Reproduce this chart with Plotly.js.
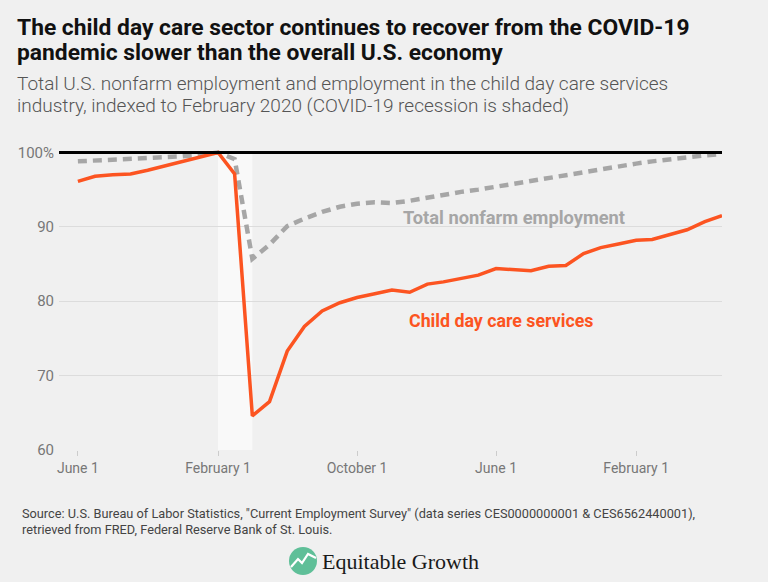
<!DOCTYPE html>
<html>
<head>
<meta charset="utf-8">
<script src="https://cdn.plot.ly/plotly-3.0.1.min.js"></script>
<style>
html,body{margin:0;padding:0;background:#f0f0f0;}
#chart{width:768px;height:582px;}
</style>
</head>
<body>
<div id="chart"></div>
<script>
// ---- Data (indexed to February 2020 = 100) ----
const months = [
  "2019-06-01","2019-07-01","2019-08-01","2019-09-01","2019-10-01","2019-11-01","2019-12-01",
  "2020-01-01","2020-02-01","2020-03-01","2020-04-01","2020-05-01","2020-06-01","2020-07-01",
  "2020-08-01","2020-09-01","2020-10-01","2020-11-01","2020-12-01",
  "2021-01-01","2021-02-01","2021-03-01","2021-04-01","2021-05-01","2021-06-01","2021-07-01",
  "2021-08-01","2021-09-01","2021-10-01","2021-11-01","2021-12-01",
  "2022-01-01","2022-02-01","2022-03-01","2022-04-01","2022-05-01","2022-06-01","2022-07-01"
];
const childCare = [
  96.1, 96.8, 97.0, 97.1, 97.6, 98.2, 98.8,
  99.5, 100.0, 97.1, 64.6, 66.5, 73.3, 76.6, 78.7, 79.8, 80.5, 81.0, 81.5,
  81.2, 82.3, 82.6, 83.1, 83.5, 84.4, 84.2, 84.1, 84.7, 84.8, 86.4, 87.2,
  87.7, 88.2, 88.3, 89.0, 89.6, 90.7, 91.5
];
const totalNonfarm = [
  98.8, 98.9, 99.0, 99.1, 99.2, 99.4, 99.5,
  99.7, 100.0, 99.1, 85.7, 87.6, 90.1, 91.1, 92.0, 92.7, 93.1, 93.3, 93.2,
  93.5, 93.9, 94.4, 94.7, 95.0, 95.4, 95.8, 96.2, 96.5, 96.9, 97.4, 97.8,
  98.1, 98.5, 98.8, 99.1, 99.3, 99.6, 99.8
];
const xTickVals = ["2019-06-01","2020-02-01","2020-10-01","2021-06-01","2022-02-01"];
const xTickText = ["June 1","February 1","October 1","June 1","February 1"];
const yTickVals = [60, 70, 80, 90, 100];
const yTickText = ["60","70","80","90","100%"];
const recession = ["2020-02-01","2020-04-01"];
const baseline = 100;

// ---- Layout helpers (pixel -> paper) ----
const W = 768, Hh = 582;
const M = {l:59, r:46, t:145, b:132};
const PW = W - M.l - M.r, PH = Hh - M.t - M.b;
const px = x => (x - M.l) / PW;
const py = y => 1 - (y - M.t) / PH;

const traces = [
  {
    x: months, y: totalNonfarm, type: "scatter", mode: "lines",
    line: {color: "#a6a6a6", width: 4.5, dash: "9px,6px"},
    hoverinfo: "skip", name: "Total nonfarm employment"
  },
  {
    x: months, y: childCare, type: "scatter", mode: "lines",
    line: {color: "#fc5421", width: 3.5},
    hoverinfo: "skip", name: "Child day care services"
  }
];

const titleFont = "Roboto, 'Noto Sans', sans-serif";
const layout = {
  width: W, height: Hh,
  margin: M,
  paper_bgcolor: "#f0f0f0",
  plot_bgcolor: "#f0f0f0",
  showlegend: false,
  xaxis: {
    type: "date",
    range: ["2019-04-29", "2022-07-01"],
    tickvals: xTickVals, ticktext: xTickText,
    ticks: "outside", ticklen: 5, tickcolor: "#cccccc", tickwidth: 1,
    showgrid: false, zeroline: false, showline: false,
    tickfont: {family: "Roboto, sans-serif", size: 14, color: "#777777"},
    fixedrange: true
  },
  yaxis: {
    range: [60, 101],
    tickvals: yTickVals, ticktext: yTickText,
    showgrid: true, gridcolor: "#dcdcdc", gridwidth: 1,
    zeroline: false, showline: false, ticks: "",
    tickfont: {family: "Roboto, sans-serif", size: 15, color: "#777777"},
    ticklabelstandoff: 4,
    fixedrange: true
  },
  shapes: [
    {type: "rect", xref: "x", yref: "y", x0: recession[0], x1: recession[1], y0: 60, y1: baseline,
     fillcolor: "#f9f9f9", line: {width: 0}, layer: "below"},
    {type: "line", xref: "paper", yref: "y", x0: 0, x1: 1, y0: baseline, y1: baseline,
     line: {color: "#000000", width: 3}, layer: "above"},
    // logo circle
    {type: "circle", xref: "paper", yref: "paper",
     x0: px(289), x1: px(317), y0: py(575), y1: py(547),
     fillcolor: "#5fbf98", line: {width: 0}},
    {type: "path", xref: "paper", yref: "paper",
     path: "M " + px(291) + "," + py(567) + " L " + px(298) + "," + py(559) + " L " + px(302) + "," + py(563) +
           " L " + px(308) + "," + py(554) + " L " + px(316) + "," + py(558),
     line: {color: "#ffffff", width: 2.2}}
  ],
  annotations: [
    {xref: "paper", yref: "paper", x: px(15), y: py(28), xanchor: "left", yanchor: "middle",
     text: "<b>The child day care sector continues to recover from the COVID-19</b>", showarrow: false,
     font: {family: titleFont, size: 22.8, color: "#111111"}},
    {xref: "paper", yref: "paper", x: px(15), y: py(53), xanchor: "left", yanchor: "middle",
     text: "<b>pandemic slower than the overall U.S. economy</b>", showarrow: false,
     font: {family: titleFont, size: 22.8, color: "#111111"}},
    {xref: "paper", yref: "paper", x: px(15), y: py(83), xanchor: "left", yanchor: "middle",
     text: "Total U.S. nonfarm employment and employment in the child day care services", showarrow: false,
     font: {family: "Roboto, sans-serif", size: 19, color: "#555555", weight: 300}},
    {xref: "paper", yref: "paper", x: px(15), y: py(105.5), xanchor: "left", yanchor: "middle",
     text: "industry, indexed to February 2020 (COVID-19 recession is shaded)", showarrow: false,
     font: {family: "Roboto, sans-serif", size: 19, color: "#555555", weight: 300}},
    {xref: "paper", yref: "paper", x: px(401), y: py(217), xanchor: "left", yanchor: "middle",
     text: "<b>Total nonfarm employment</b>", showarrow: false,
     font: {family: "Roboto, sans-serif", size: 18.3, color: "#a6a6a6"}},
    {xref: "paper", yref: "paper", x: px(407), y: py(320), xanchor: "left", yanchor: "middle",
     text: "<b>Child day care services</b>", showarrow: false,
     font: {family: "Roboto, sans-serif", size: 17.8, color: "#fc5421"}},
    {xref: "paper", yref: "paper", x: px(20), y: py(513), xanchor: "left", yanchor: "middle",
     text: "Source: U.S. Bureau of Labor Statistics, \"Current Employment Survey\" (data series CES0000000001 & CES6562440001),",
     showarrow: false, font: {family: "Roboto, sans-serif", size: 12.75, color: "#444444"}},
    {xref: "paper", yref: "paper", x: px(20), y: py(529), xanchor: "left", yanchor: "middle",
     text: "retrieved from FRED, Federal Reserve Bank of St. Louis.",
     showarrow: false, font: {family: "Roboto, sans-serif", size: 12.75, color: "#444444"}},
    {xref: "paper", yref: "paper", x: px(320), y: py(561), xanchor: "left", yanchor: "middle",
     text: "Equitable Growth", showarrow: false,
     font: {family: "'Liberation Serif', 'DejaVu Serif', serif", size: 22, color: "#1a1a1a"}}
  ]
};

Plotly.newPlot("chart", traces, layout, {displayModeBar: false, staticPlot: true});
</script>
</body>
</html>
